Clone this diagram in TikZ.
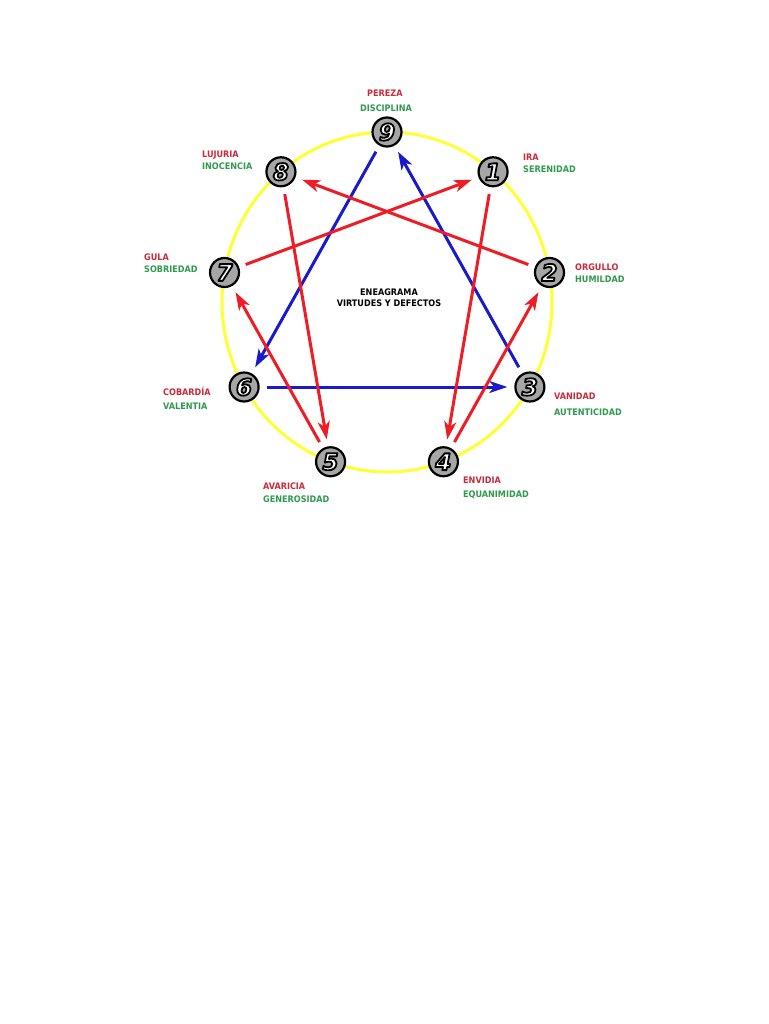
\documentclass[tikz,border=0pt]{standalone}
\usepackage{fontspec}
\setmainfont{DejaVu Sans}
\newfontfamily\labfont{DejaVu Sans Condensed}
\newfontfamily\digfont{DejaVu Sans}
\usetikzlibrary{arrows.meta}
\definecolor{labred}{HTML}{CC2A3A}
\definecolor{labgreen}{HTML}{2F9A4F}
\definecolor{arrred}{HTML}{EE1C24}
\definecolor{arrblue}{HTML}{1A1ACC}
\definecolor{ringyellow}{HTML}{FFFF33}
\definecolor{nodegray}{HTML}{A6A6A6}
\newcommand\odig[1]{\leavevmode\color{white}%
 \special{pdf:literal direct q 0 0 0 RG 2 Tr 1.8 w 1 j}#1\special{pdf:literal direct Q}}
\tikzset{
  enode/.style={circle, draw=black, line width=2.2pt, fill=nodegray, minimum size=29pt, inner sep=0pt,
     font=\digfont\bfseries\itshape\fontsize{23}{23}\selectfont},
  vice/.style={anchor=base west, inner sep=0pt, text=labred, font=\labfont\bfseries\fontsize{9}{9}\selectfont},
  virtue/.style={anchor=base west, inner sep=0pt, text=labgreen, font=\labfont\bfseries\fontsize{9}{9}\selectfont},
  conn/.style={line width=3pt, -{Stealth[length=18pt,width=12pt,inset=5pt]}, shorten <=7pt, shorten >=7pt},
  redarr/.style={conn, draw=arrred},
  bluearr/.style={conn, draw=arrblue},
  title/.style={inner sep=0pt, font=\labfont\bfseries\fontsize{9}{11}\selectfont, align=center}
}
\begin{document}
\begin{tikzpicture}[x=1pt,y=-1pt]
\useasboundingbox (0,0) rectangle (768,1024);
\fill[white] (0,0) rectangle (768,1024);
% ring
\draw[ringyellow, line width=3pt] (387,302) ellipse [x radius=165, y radius=170];
% nodes
\foreach \n/\a in {9/90,1/50,2/10,3/-30,4/-70,5/-110,6/-150,7/170,8/130}{
  \node[enode] (n\n) at ({387+165*cos(\a)},{302-170*sin(\a)}) {\odig{\n}};
}
% arrows
\draw[bluearr] (n9) -- (n6);
\draw[bluearr] (n6) -- (n3);
\draw[bluearr] (n3) -- (n9);
\draw[redarr] (n1) -- (n4);
\draw[redarr] (n4) -- (n2);
\draw[redarr] (n2) -- (n8);
\draw[redarr] (n8) -- (n5);
\draw[redarr] (n5) -- (n7);
\draw[redarr] (n7) -- (n1);
% labels
\node[vice] (v9) at (367,97) {PEREZA};
\node[virtue] (g9) at (360,111.5) {DISCIPLINA};
\node[vice] (v8) at (202,157.5) {LUJURIA};
\node[virtue] (g8) at (202,169.5) {INOCENCIA};
\node[vice] (v7) at (144,260.5) {GULA};
\node[virtue] (g7) at (144,272.5) {SOBRIEDAD};
\node[vice] (v1) at (523,160.5) {IRA};
\node[virtue] (g1) at (523,172.5) {SERENIDAD};
\node[vice] (v2) at (575,270.5) {ORGULLO};
\node[virtue] (g2) at (575,282.5) {HUMILDAD};
\node[vice] (v3) at (554,399.5) {VANIDAD};
\node[virtue] (g3) at (554,415.5) {AUTENTICIDAD};
\node[vice] (v4) at (463,483.5) {ENVIDIA};
\node[virtue] (g4) at (463,497.5) {EQUANIMIDAD};
\node[vice] (v5) at (263,489.5) {AVARICIA};
\node[virtue] (g5) at (263,502.5) {GENEROSIDAD};
\node[vice] (v6) at (163,395.5) {COBARDÍA};
\node[virtue] (g6) at (163,409.5) {VALENTIA};
\node[title] (t) at (389,298) {ENEAGRAMA\\VIRTUDES Y DEFECTOS};
\end{tikzpicture}
\end{document}
